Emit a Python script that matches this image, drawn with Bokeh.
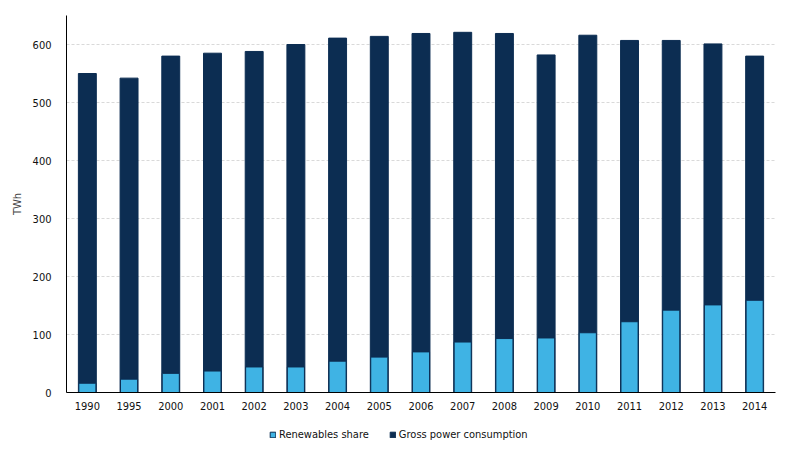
import numpy as np
from bokeh.plotting import figure
from bokeh.layouts import column
from bokeh.models import Legend, LegendItem, SingleIntervalTicker, Range1d
from bokeh.embed import file_html
from bokeh.resources import INLINE

years = ["1990", "1995", "2000", "2001", "2002", "2003", "2004", "2005", "2006",
         "2007", "2008", "2009", "2010", "2011", "2012", "2013", "2014"]
gross = [550, 542, 580, 585, 588, 600, 611, 614, 619, 621, 619, 582, 616, 607, 607, 601, 580]
renew = [16, 23, 33, 37, 44, 44, 54, 61, 70, 87, 93, 94, 103, 122, 142, 151, 159]

dark = "#0c2d52"
light = "#3fb3e4"
font = "DejaVu Sans Condensed"

p = figure(x_range=years, y_range=Range1d(0, 650), frame_width=709, frame_height=377,
           toolbar_location=None, output_backend="svg",
           min_border_left=66, min_border_right=14, min_border_top=15, min_border_bottom=24)
p.outline_line_color = None

p.vbar(x=years, top=gross, width=0.43, color=dark)
p.vbar(x=years, top=renew, width=0.41, fill_color=light, line_color=dark, line_width=1)

p.yaxis.ticker = SingleIntervalTicker(interval=100)
p.yaxis.axis_label = "TWh"
p.yaxis.axis_label_text_font_style = "normal"
p.yaxis.axis_label_text_font_size = "11px"
p.yaxis.axis_label_text_font = font
p.yaxis.axis_label_standoff = 6
p.yaxis.major_label_standoff = 11

for ax in (p.xaxis[0], p.yaxis[0]):
    ax.major_tick_line_color = None
    ax.minor_tick_line_color = None
    ax.major_tick_out = 0
    ax.axis_line_color = "black"
    ax.major_label_text_font = font
    ax.major_label_text_font_size = "11px"
    ax.major_label_text_color = "#111111"
p.xaxis.major_label_standoff = 9

p.xgrid.grid_line_color = None
p.ygrid.grid_line_color = "#d9d9d9"
p.ygrid.grid_line_dash = "3 2"

# legend strip under the chart (its frame lines up with the chart frame)
lf = figure(width=789, height=39, x_range=Range1d(0, 1), y_range=Range1d(0, 1),
            toolbar_location=None, output_backend="svg",
            min_border=0, min_border_left=0, min_border_right=0,
            min_border_top=0, min_border_bottom=0)
lf.axis.visible = False
lf.grid.visible = False
lf.outline_line_color = None
# NaN bars draw nothing, they only feed the legend swatches
r_leg = lf.vbar(x=np.array([0.5]), top=np.array([np.nan]), width=0.4,
                fill_color=light, line_color=dark, line_width=1)
g_leg = lf.vbar(x=np.array([0.5]), top=np.array([np.nan]), width=0.4, color=dark)

legend = Legend(items=[LegendItem(label="Renewables share", renderers=[r_leg]),
                       LegendItem(label="Gross power consumption", renderers=[g_leg])],
                orientation="horizontal", location=(203, 14),
                glyph_width=7, glyph_height=7, label_standoff=3, spacing=20,
                padding=0, margin=0, border_line_color=None, background_fill_alpha=0,
                label_text_font=font, label_text_font_size="11px",
                label_text_color="#111111", label_height=12)
lf.add_layout(legend, "center")

layout = column(p, lf, spacing=0)
open("out.html", "w").write(file_html(layout, INLINE))
